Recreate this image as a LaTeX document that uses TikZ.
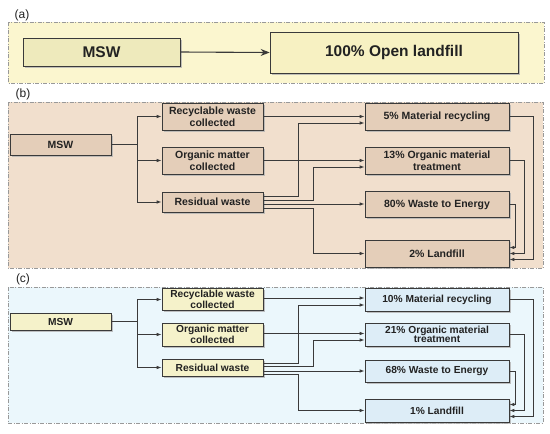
\documentclass[tikz,border=0pt]{standalone}
\usepackage{fontspec}
\setmainfont{Liberation Sans}
\usetikzlibrary{arrows.meta,shadows,calc}
\definecolor{pA}{HTML}{FBF6CF}
\definecolor{bA1}{HTML}{EEEABC}
\definecolor{bA2}{HTML}{F7F1C2}
\definecolor{pB}{HTML}{F1DFCD}
\definecolor{bB}{HTML}{E4CEB9}
\definecolor{pC}{HTML}{EBF7FC}
\definecolor{bCy}{HTML}{F5F2CA}
\definecolor{bCb}{HTML}{DDEDF7}
\definecolor{ln}{HTML}{3A3A3A}
\definecolor{tx}{HTML}{222222}
\tikzset{
  panel/.style={draw=gray!80, line width=0.7pt, dash pattern=on 4pt off 1.5pt on 1pt off 1.5pt},
  plabel/.style={font=\fontsize{12}{14}\selectfont, text=tx, inner sep=0pt},
  box/.style={draw=ln, line width=0.7pt, inner sep=1pt, align=center, text=tx,
    font=\fontsize{10.5}{11.5}\selectfont\bfseries,
    drop shadow={shadow xshift=1.6pt, shadow yshift=-1.6pt, fill=gray!60, opacity=0.8}},
  cbox/.style={box, inner sep=0.5pt, font=\fontsize{10.2}{9.4}\selectfont\bfseries},
  bigbox/.style={box, font=\fontsize{15.5}{18}\selectfont\bfseries},
  conn/.style={draw=ln, line width=0.9pt},
  arr/.style={conn, -{Latex[length=5pt,width=3.6pt]}},
  bigarr/.style={conn, line width=1.1pt, -{Stealth[length=9pt,width=7pt]}}
}
\begin{document}
\begin{tikzpicture}[x=1pt,y=-1pt]
\useasboundingbox (0,0) rectangle (550,434);
\fill[white] (0,0) rectangle (550,434);
% ---------- panel (a)
\node[plabel] (la) at (22,15) {(a)};
\filldraw[panel, fill=pA] (8,22) rectangle (544,83);
\node[bigbox, fill=bA1, minimum width=157, minimum height=28] (mswa) at (101.5,52) {MSW};
\node[bigbox, fill=bA2, minimum width=248, minimum height=41] (ola) at (394,52.5) {100\% Open landfill};
\draw[bigarr] (mswa.east) -- (ola.west);
% ---------- panel (b)
\node[plabel] (lb) at (23,94) {(b)};
\filldraw[panel, fill=pB] (8,102) rectangle (543,268);
\node[box, fill=bB, minimum width=101, minimum height=21] (mswb) at (60.5,144.5) {MSW};
\node[box, fill=bB, minimum width=101, minimum height=27] (recb) at (212.5,116.5) {Recyclable waste\\collected};
\node[box, fill=bB, minimum width=101, minimum height=27] (orgb) at (212.5,160.5) {Organic matter\\collected};
\node[box, fill=bB, minimum width=101, minimum height=20] (resb) at (212.5,202) {Residual waste};
\node[box, fill=bB, minimum width=144, minimum height=27] (mrb) at (437,116.5) {5\% Material recycling};
\node[box, fill=bB, minimum width=144, minimum height=27] (omb) at (437,160.5) {13\% Organic material\\treatment};
\node[box, fill=bB, minimum width=144, minimum height=26] (web) at (437,204.5) {80\% Waste to Energy};
\node[box, fill=bB, minimum width=144, minimum height=27] (lfb) at (437,253.5) {2\% Landfill};
\coordinate (jb) at (137,144.5);
\draw[conn] (mswb.east) -- (jb);
\draw[arr] (jb) |- (recb.west);
\draw[arr] (jb) |- (orgb.west);
\draw[arr] (jb) |- (resb.west);
\draw[arr] (recb.east) -- (mrb.west);
\draw[arr] (orgb.east) -- (omb.west);
\draw[arr] ($(resb.east)+(0,-6)$) -| (298,123) -- ($(mrb.west)+(0,6.5)$);
\draw[arr] ($(resb.east)+(0,-2)$) -| (313,167) -- ($(omb.west)+(0,6.5)$);
\draw[arr] ($(resb.east)+(0,2)$) -- ($(web.west)+(0,-0.5)$);
\draw[arr] ($(resb.east)+(0,6)$) -| (313,253.5) -- (lfb.west);
\draw[arr] (mrb.east) -| (533,259.5) -- ($(lfb.east)+(0,6)$);
\draw[arr] (omb.east) -| (524,253.5) -- (lfb.east);
\draw[arr] (web.east) -| (515,247.5) -- ($(lfb.east)+(0,-6)$);
% ---------- panel (c)
\node[plabel] (lc) at (23,279) {(c)};
\filldraw[panel, fill=pC] (8,287) rectangle (543,423);
\node[cbox, fill=bCy, minimum width=101, minimum height=17] (mswc) at (60.5,321.5) {MSW};
\node[cbox, fill=bCy, minimum width=101, minimum height=22] (recc) at (212.5,299.5) {Recyclable waste\\collected};
\node[cbox, fill=bCy, minimum width=101, minimum height=23] (orgc) at (212.5,334.5) {Organic matter\\collected};
\node[cbox, fill=bCy, minimum width=101, minimum height=17] (resc) at (212.5,367.5) {Residual waste};
\node[cbox, fill=bCb, minimum width=144, minimum height=23] (mrc) at (437,299.5) {10\% Material recycling};
\node[cbox, fill=bCb, minimum width=144, minimum height=23] (omc) at (437,334.5) {21\% Organic material\\treatment};
\node[cbox, fill=bCb, minimum width=144, minimum height=22] (wec) at (437,371.5) {68\% Waste to Energy};
\node[cbox, fill=bCb, minimum width=144, minimum height=23] (lfc) at (437,410.5) {1\% Landfill};
\coordinate (jc) at (137,321.5);
\draw[conn] (mswc.east) -- (jc);
\draw[arr] (jc) |- (recc.west);
\draw[arr] (jc) |- (orgc.west);
\draw[arr] (jc) |- (resc.west);
\draw[arr] ($(recc.east)+(0,-1.5)$) -- ($(mrc.west)+(0,-1.5)$);
\draw[arr] ($(orgc.east)+(0,-1)$) -- ($(omc.west)+(0,-1)$);
\draw[arr] ($(resc.east)+(0,-4.5)$) -| (298,305) -- ($(mrc.west)+(0,5.5)$);
\draw[arr] ($(resc.east)+(0,-1)$) -| (313,340) -- ($(omc.west)+(0,5.5)$);
\draw[arr] ($(resc.east)+(0,3.5)$) -- ($(wec.west)+(0,-0.5)$);
\draw[arr] ($(resc.east)+(0,7)$) -| (298,410.5) -- (lfc.west);
\draw[arr] (mrc.east) -| (533,416.5) -- ($(lfc.east)+(0,6)$);
\draw[arr] (omc.east) -| (524,410.5) -- (lfc.east);
\draw[arr] (wec.east) -| (515,404.5) -- ($(lfc.east)+(0,-6)$);
\end{tikzpicture}
\end{document}
